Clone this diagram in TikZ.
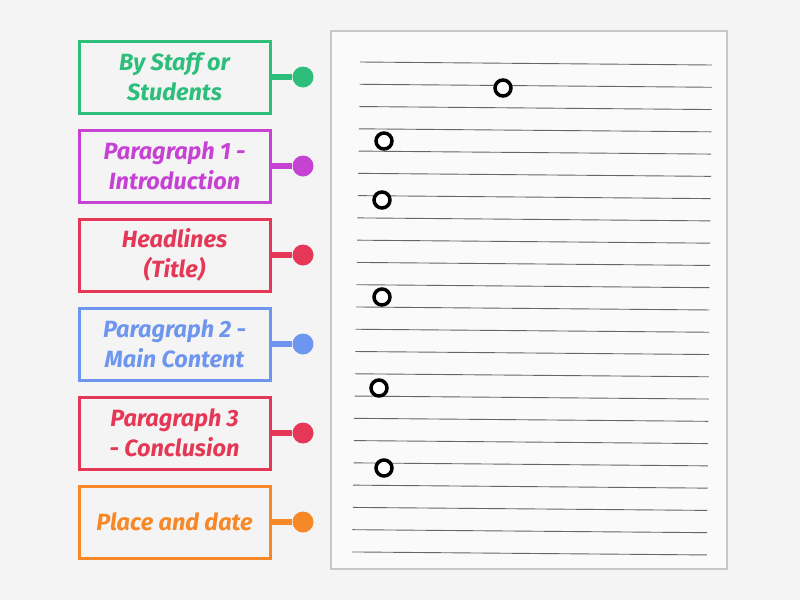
\documentclass[tikz,border=0pt]{standalone}
\usepackage{fontspec}
\setmainfont{Fira Sans}
\usepackage{tikz}
\usetikzlibrary{positioning}
\definecolor{bg}{RGB}{245,244,245}
\definecolor{paperline}{RGB}{200,200,200}
\definecolor{cgreen}{RGB}{44,190,122}
\definecolor{cpurple}{RGB}{198,66,210}
\definecolor{cred}{RGB}{228,56,86}
\definecolor{cblue}{RGB}{110,150,238}
\definecolor{corange}{RGB}{246,136,40}
\tikzset{
label box/.style={draw=#1, text=#1, line width=3pt, minimum width=191pt, minimum height=72pt, align=center, font=\fontsize{23.5}{29.5}\selectfont\bfseries\itshape}, % the coloured boxes
pin dot/.style={circle, fill=#1, inner sep=0pt, minimum size=21pt}, % the dot at the end of a connector
pin line/.style={draw=#1, line width=6pt}, % the connector
hole/.style={circle, draw=black, line width=3.5pt, fill=white, inner sep=0pt, minimum size=16pt}, % the open circles on the paper
}

\begin{document}
\begin{tikzpicture}[x=1pt, y=-1pt]
            \fill[bg] (0,0) rectangle (800,600);
            % the sheet of paper
            \draw[paperline, line width=2pt, fill=white!98!black] (331,31) rectangle (727,569);
            \foreach \i in {0,...,22}
                \draw[black!60, line width=0.9pt] ({360-0.36*\i}, {62+22.27*\i}) -- ({712-0.23*\i}, {65+22.27*\i});
            % the boxes
            \node[label box=cgreen] (staff) at (174.5,77) {By Staff or\\Students};
            \node[label box=cpurple] (intro) at (174.5,166) {Paragraph 1 -\\Introduction};
            \node[label box=cred] (headline) at (174.5,255) {Headlines\\(Title)};
            \node[label box=cblue] (content) at (174.5,344) {Paragraph 2 -\\Main Content};
            \node[label box=cred] (conclusion) at (174.5,433) {Paragraph 3\\- Conclusion};
            \node[label box=corange] (place) at (174.5,522) {Place and date};
            % the dots
            \node[pin dot=cgreen] (staffdot) at (303,77) {};
            \node[pin dot=cpurple] (introdot) at (303,166) {};
            \node[pin dot=cred] (headlinedot) at (303,255) {};
            \node[pin dot=cblue] (contentdot) at (303,344) {};
            \node[pin dot=cred] (conclusiondot) at (303,433) {};
            \node[pin dot=corange] (placedot) at (303,522) {};
            \draw[pin line=cgreen] (staff.east) -- (staffdot);
            \draw[pin line=cpurple] (intro.east) -- (introdot);
            \draw[pin line=cred] (headline.east) -- (headlinedot);
            \draw[pin line=cblue] (content.east) -- (contentdot);
            \draw[pin line=cred] (conclusion.east) -- (conclusiondot);
            \draw[pin line=corange] (place.east) -- (placedot);
            % the targets on the paper
            \node[hole] (h1) at (503,88) {};
            \node[hole] (h2) at (384,141) {};
            \node[hole] (h3) at (382,200) {};
            \node[hole] (h4) at (382,297) {};
            \node[hole] (h5) at (379,388) {};
            \node[hole] (h6) at (384,468) {};
        \end{tikzpicture}
\end{document}
